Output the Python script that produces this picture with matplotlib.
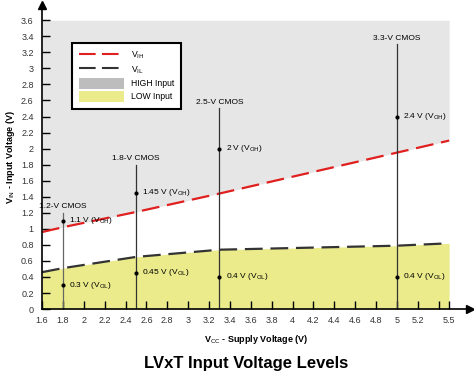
import matplotlib.pyplot as plt
from matplotlib.lines import Line2D
from matplotlib.patches import Patch

plt.rcParams['font.family'] = ['Liberation Sans', 'DejaVu Sans']

# 阈值曲线
vcc = [1.6, 1.8, 2.5, 3.3, 5.0, 5.5]
vih = [0.96, 1.02, 1.21, 1.44, 1.95, 2.1]
vil = [0.46, 0.51, 0.65, 0.74, 0.79, 0.82]

# 各 CMOS 电平
cmos_vcc = [1.8, 2.5, 3.3, 5.0]
cmos_top = [1.2, 1.8, 2.5, 3.3]
cmos_name = ['1.2-V CMOS', '1.8-V CMOS', '2.5-V CMOS', '3.3-V CMOS']
voh = [1.1, 1.45, 2.0, 2.4]
vol = [0.3, 0.45, 0.4, 0.4]
voh_txt = ['1.1 V', '1.45 V', '2 V', '2.4 V']
vol_txt = ['0.3 V', '0.45 V', '0.4 V', '0.4 V']

xticks = [1.6, 1.8, 2, 2.2, 2.4, 2.6, 2.8, 3, 3.2, 3.4, 3.6, 3.8, 4, 4.2, 4.4, 4.6, 4.8, 5, 5.2, 5.5]
yticks = [0, 0.2, 0.4, 0.6, 0.8, 1, 1.2, 1.4, 1.6, 1.8, 2, 2.2, 2.4, 2.6, 2.8, 3, 3.2, 3.4, 3.6]

gray = '#e6e6e6'
yellow = '#ebeb8c'
red = '#e0201f'

fig = plt.figure(figsize=(4.74, 3.83), dpi=100)
ax = fig.add_axes([0.0886, 0.193, 0.903, 0.794])

# 区域填充
ax.fill_between(vcc, vih, 3.6, color=gray, lw=0)
ax.fill_between(vcc, 0, vil, color=yellow, lw=0)

ax.plot(vcc, vih, color=red, lw=1.6, dashes=(8, 3.5))
ax.plot(vcc, vil, color='#333333', lw=1.6, dashes=(8, 3.5))

for i, (x, top, name, h, l, ht, lt) in enumerate(zip(cmos_vcc, cmos_top, cmos_name, voh, vol, voh_txt, vol_txt)):
    ax.plot([x, x], [0, top], color='#666666' if i == 0 else '#333333', lw=0.9)
    ax.plot([x, x], [h, l], 'o', color='black', ms=2)
    ax.text(x, top + 0.03, name, ha='center', va='bottom', fontsize=6)
    ax.text(x + 0.06, h, ht + ' (V$_{\\rm OH}$)', ha='left', va='center', fontsize=6)
    ax.text(x + 0.06, l, lt + ' (V$_{\\rm OL}$)', ha='left', va='center', fontsize=6)

ax.set_xlim(1.6, 5.7)
ax.set_ylim(0, 3.79)
ax.set_xticks(xticks + [5.4])
ax.set_xticklabels([f'{t:g}' for t in xticks] + [''])
ax.set_yticks(yticks)
ax.set_yticklabels([f'{t:g}' for t in yticks])
ax.tick_params(axis='both', direction='in', length=6, width=1, labelsize=6.5, colors='black', labelcolor='#333333')
ax.tick_params(axis='x', pad=5)
ax.tick_params(axis='y', pad=6)
for s in ['top', 'right']:
    ax.spines[s].set_visible(False)
for s in ['left', 'bottom']:
    ax.spines[s].set_linewidth(1.2)
ax.plot(1, 0, '>', color='black', ms=6, transform=ax.transAxes, clip_on=False)
ax.plot(0, 1, '^', color='black', ms=6, transform=ax.transAxes, clip_on=False)

ax.set_xlabel('V$_{\\rm CC}$ - Supply Voltage (V)', fontsize=6.5, fontweight='bold', labelpad=6)
ax.set_ylabel('V$_{\\rm IN}$ - Input Voltage (V)', fontsize=6.5, fontweight='bold', labelpad=3)

handles = [
    Line2D([], [], color=red, lw=1.5, dashes=(8, 3)),
    Line2D([], [], color='#333333', lw=1.5, dashes=(8, 3)),
    Patch(facecolor='#bdbdbd', edgecolor='none'),
    Patch(facecolor=yellow, edgecolor='none'),
]
labels = ['V$_{\\rm IH}$', 'V$_{\\rm IL}$', 'HIGH Input', 'LOW Input']
leg = ax.legend(handles, labels, loc='upper left', bbox_to_anchor=(0.07, 0.875),
                borderaxespad=0, fontsize=6.2, handlelength=5.2, handleheight=1.5,
                fancybox=False, framealpha=1, edgecolor='black', labelspacing=0.3,
                borderpad=0.8)
leg.get_frame().set_linewidth(1.5)

fig.text(0.52, 0.052, 'LVxT Input Voltage Levels', ha='center', va='center',
         fontsize=12, fontweight='bold')

fig.savefig('out.png', dpi=100)
